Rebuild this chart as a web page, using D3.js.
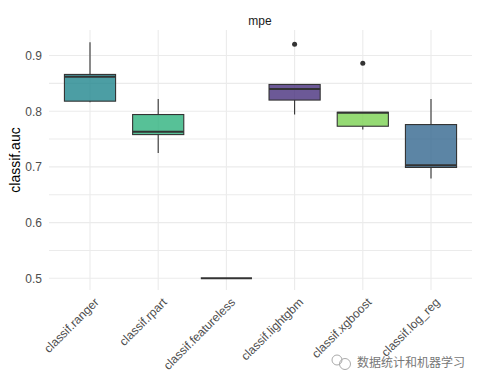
<!DOCTYPE html>
<html>
<head>
<meta charset="utf-8">
<script src="https://cdn.jsdelivr.net/npm/d3@7"></script>
<style>
    html, body { margin: 0; padding: 0; background: #fff; }
    svg { display: block; font-family: "Liberation Sans", Arial, sans-serif; }
    .grid line { stroke: #ebebeb; stroke-width: 1.1; }
    .yAxis text, .xAxis text { fill: #4d4d4d; }
</style>
</head>
<body>
<div id="chart"></div>
<script>
var learners = ["classif.ranger", "classif.rpart", "classif.featureless", "classif.lightgbm", "classif.xgboost", "classif.log_reg"];
var whiskerLow = [0.816, 0.725, 0.5, 0.794, 0.767, 0.679];
var q1 = [0.818, 0.758, 0.5, 0.82, 0.773, 0.699];
var medians = [0.862, 0.763, 0.5, 0.84, 0.797, 0.703];
var q3 = [0.866, 0.794, 0.5, 0.848, 0.798, 0.776];
var whiskerHigh = [0.924, 0.822, 0.5, 0.848, 0.798, 0.822];
var outliers = [null, null, null, 0.92, 0.886, null];
var fills = ["#1f868d", "#2db27d", "#333333", "#472f7d", "#7ad151", "#33668f"];
var yTicks = [0.5, 0.6, 0.7, 0.8, 0.9];
var yMinor = [0.55, 0.65, 0.75, 0.85];

var width = 480, height = 384;
var margin = { top: 30, right: 8, bottom: 94, left: 49 };

var svg = d3.select("#chart").append("svg")
    .attr("width", width)
    .attr("height", height);

// discrete scale with ggplot's 0.6 expansion on each end
var xScale = d3.scalePoint()
    .domain(learners)
    .range([margin.left + 41, width - margin.right - 41]);
var step = xScale.step();
var boxWidth = step * 0.75;

var yScale = d3.scaleLinear()
    .domain([0.5, 0.9])
    .range([278.3, 55.5]);

// grid lines
var grid = svg.append("g").attr("class", "grid");
grid.selectAll(".h")
    .data(yTicks.concat(yMinor))
    .enter().append("line")
    .attr("x1", margin.left).attr("x2", width - margin.right)
    .attr("y1", d => yScale(d)).attr("y2", d => yScale(d));
grid.selectAll(".v")
    .data(learners)
    .enter().append("line")
    .attr("x1", d => xScale(d)).attr("x2", d => xScale(d))
    .attr("y1", margin.top).attr("y2", height - margin.bottom);

// Y axis
svg.append("g")
    .attr("class", "yAxis")
    .attr("transform", "translate(" + margin.left + ",0)")
    .call(d3.axisLeft(yScale).tickValues(yTicks).tickFormat(d3.format(".1f")).tickSize(0).tickPadding(7))
    .call(function (g) { g.select(".domain").remove() })
    .selectAll("text").style("font-size", "12px");

// X axis
svg.append("g")
    .attr("class", "xAxis")
    .attr("transform", "translate(0," + (height - margin.bottom) + ")")
    .call(d3.axisBottom(xScale).tickSize(0).tickPadding(0))
    .call(function (g) { g.select(".domain").remove() })
    .selectAll("text")
    .style("font-size", "12px")
    .attr("text-anchor", "end")
    .attr("dy", 0)
    .attr("y", 0)
    .attr("transform", "translate(9,13) rotate(-45)");

// boxes
var boxes = svg.selectAll(".box")
    .data(learners)
    .enter().append("g")
    .attr("class", "box");

boxes.append("line")
    .attr("x1", d => xScale(d)).attr("x2", d => xScale(d))
    .attr("y1", (d, i) => yScale(whiskerHigh[i])).attr("y2", (d, i) => yScale(q3[i]))
    .attr("stroke", "#333").attr("stroke-width", 1.1);
boxes.append("line")
    .attr("x1", d => xScale(d)).attr("x2", d => xScale(d))
    .attr("y1", (d, i) => yScale(q1[i])).attr("y2", (d, i) => yScale(whiskerLow[i]))
    .attr("stroke", "#333").attr("stroke-width", 1.1);
boxes.append("rect")
    .attr("x", d => xScale(d) - boxWidth / 2)
    .attr("width", boxWidth)
    .attr("y", (d, i) => yScale(q3[i]))
    .attr("height", (d, i) => yScale(q1[i]) - yScale(q3[i]))
    .attr("fill", (d, i) => fills[i]).attr("fill-opacity", 0.8)
    .attr("stroke", "#333").attr("stroke-width", 1.1);
boxes.append("line")
    .attr("x1", d => xScale(d) - boxWidth / 2).attr("x2", d => xScale(d) + boxWidth / 2)
    .attr("y1", (d, i) => yScale(medians[i])).attr("y2", (d, i) => yScale(medians[i]))
    .attr("stroke", "#333").attr("stroke-width", 2);

svg.selectAll(".outlier")
    .data(learners.filter((d, i) => outliers[i] != null))
    .enter().append("circle")
    .attr("class", "outlier")
    .attr("cx", d => xScale(d))
    .attr("cy", d => yScale(outliers[learners.indexOf(d)]))
    .attr("r", 2.5)
    .attr("fill", "#333");

//Add title
svg.append("text")
    .attr("x", 260).attr("y", 25)
    .attr("text-anchor", "middle")
    .style("font-size", "12px")
    .style("fill", "#1a1a1a")
    .text("mpe");

svg.append("text")
    .attr("transform", "translate(20,160) rotate(-90)")
    .attr("text-anchor", "middle")
    .style("font-size", "14px")
    .style("fill", "#000")
    .text("classif.auc");

// watermark
var mark = svg.append("g").attr("fill", "none").attr("stroke", "#aaa");
mark.append("circle").attr("cx", 337).attr("cy", 360).attr("r", 5);
mark.append("circle").attr("cx", 345).attr("cy", 364).attr("r", 5.5);
svg.append("text")
    .attr("x", 357).attr("y", 366.5)
    .style("font-family", "'Noto Sans CJK SC'")
    .style("font-size", "12px")
    .style("fill", "#777")
    .text("数据统计和机器学习");
</script>
</body>
</html>
